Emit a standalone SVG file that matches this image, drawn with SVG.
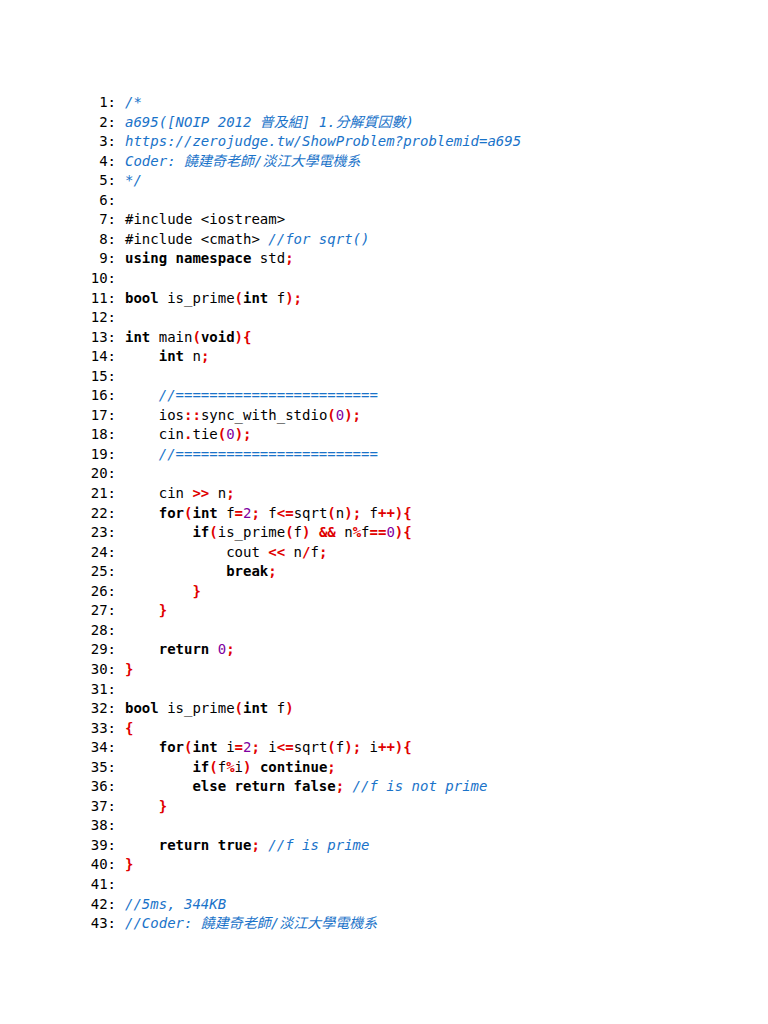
<svg xmlns="http://www.w3.org/2000/svg" width="768" height="1024" viewBox="0 0 768 1024">
<style>
text{font-family:"DejaVu Sans Mono","Liberation Mono","Noto Sans CJK TC",monospace;font-size:14px;fill:#000;white-space:pre}
.ln{text-anchor:end}
.k{font-weight:bold}
.o{fill:#e00000;font-weight:bold}
.n{fill:#8000a0}
.c{fill:#1a73c9;font-style:italic}
</style>
<rect width="768" height="1024" fill="#fff"/>
<g id="numbers">
<text class="ln" x="116" y="107">1:</text><text class="ln" x="116" y="126.5">2:</text><text class="ln" x="116" y="146.1">3:</text><text class="ln" x="116" y="165.6">4:</text><text class="ln" x="116" y="185.2">5:</text><text class="ln" x="116" y="204.7">6:</text><text class="ln" x="116" y="224.3">7:</text><text class="ln" x="116" y="243.8">8:</text><text class="ln" x="116" y="263.4">9:</text><text class="ln" x="116" y="283">10:</text><text class="ln" x="116" y="302.5">11:</text><text class="ln" x="116" y="322">12:</text><text class="ln" x="116" y="341.6">13:</text><text class="ln" x="116" y="361.2">14:</text><text class="ln" x="116" y="380.7">15:</text><text class="ln" x="116" y="400.2">16:</text><text class="ln" x="116" y="419.8">17:</text><text class="ln" x="116" y="439.4">18:</text><text class="ln" x="116" y="458.9">19:</text><text class="ln" x="116" y="478.4">20:</text><text class="ln" x="116" y="498">21:</text><text class="ln" x="116" y="517.6">22:</text><text class="ln" x="116" y="537.1">23:</text><text class="ln" x="116" y="556.6">24:</text><text class="ln" x="116" y="576.2">25:</text><text class="ln" x="116" y="595.8">26:</text><text class="ln" x="116" y="615.3">27:</text><text class="ln" x="116" y="634.8">28:</text><text class="ln" x="116" y="654.4">29:</text><text class="ln" x="116" y="674">30:</text><text class="ln" x="116" y="693.5">31:</text><text class="ln" x="116" y="713">32:</text><text class="ln" x="116" y="732.6">33:</text><text class="ln" x="116" y="752.2">34:</text><text class="ln" x="116" y="771.7">35:</text><text class="ln" x="116" y="791.2">36:</text><text class="ln" x="116" y="810.8">37:</text><text class="ln" x="116" y="830.4">38:</text><text class="ln" x="116" y="849.9">39:</text><text class="ln" x="116" y="869.4">40:</text><text class="ln" x="116" y="889">41:</text><text class="ln" x="116" y="908.6">42:</text><text class="ln" x="116" y="928.1">43:</text>
</g>
<g id="code">
<text x="125" y="107" class="c">/*</text>
<text x="125" y="126.5" class="c">a695([NOIP 2012 普及組] 1.分解質因數)</text>
<text x="125" y="146.1" class="c">https://zerojudge.tw/ShowProblem?problemid=a695</text>
<text x="125" y="165.6" class="c">Coder: 饒建奇老師/淡江大學電機系</text>
<text x="125" y="185.2" class="c">*/</text>
<text x="125" y="224.3">#include &lt;iostream&gt;</text>
<text x="125" y="243.8">#include &lt;cmath&gt; <tspan class="c">//for sqrt()</tspan></text>
<text x="125" y="263.4"><tspan class="k">using namespace</tspan> std<tspan class="o">;</tspan></text>
<text x="125" y="302.5"><tspan class="k">bool</tspan> is_prime<tspan class="o">(</tspan><tspan class="k">int</tspan> f<tspan class="o">);</tspan></text>
<text x="125" y="341.6"><tspan class="k">int</tspan> main<tspan class="o">(</tspan><tspan class="k">void</tspan><tspan class="o">){</tspan></text>
<text x="125" y="361.2">    <tspan class="k">int</tspan> n<tspan class="o">;</tspan></text>
<text x="125" y="400.2" class="c">    //========================</text>
<text x="125" y="419.8">    ios<tspan class="o">::</tspan>sync_with_stdio<tspan class="o">(</tspan><tspan class="n">0</tspan><tspan class="o">);</tspan></text>
<text x="125" y="439.4">    cin<tspan class="o">.</tspan>tie<tspan class="o">(</tspan><tspan class="n">0</tspan><tspan class="o">);</tspan></text>
<text x="125" y="458.9" class="c">    //========================</text>
<text x="125" y="498">    cin <tspan class="o">&gt;&gt;</tspan> n<tspan class="o">;</tspan></text>
<text x="125" y="517.6">    <tspan class="k">for</tspan><tspan class="o">(</tspan><tspan class="k">int</tspan> f<tspan class="o">=</tspan><tspan class="n">2</tspan><tspan class="o">;</tspan> f<tspan class="o">&lt;=</tspan>sqrt<tspan class="o">(</tspan>n<tspan class="o">);</tspan> f<tspan class="o">++){</tspan></text>
<text x="125" y="537.1">        <tspan class="k">if</tspan><tspan class="o">(</tspan>is_prime<tspan class="o">(</tspan>f<tspan class="o">)</tspan> <tspan class="o">&amp;&amp;</tspan> n<tspan class="o">%</tspan>f<tspan class="o">==</tspan><tspan class="n">0</tspan><tspan class="o">){</tspan></text>
<text x="125" y="556.6">            cout <tspan class="o">&lt;&lt;</tspan> n<tspan class="o">/</tspan>f<tspan class="o">;</tspan></text>
<text x="125" y="576.2">            <tspan class="k">break</tspan><tspan class="o">;</tspan></text>
<text x="125" y="595.8">        <tspan class="o">}</tspan></text>
<text x="125" y="615.3">    <tspan class="o">}</tspan></text>
<text x="125" y="654.4">    <tspan class="k">return</tspan> <tspan class="n">0</tspan><tspan class="o">;</tspan></text>
<text x="125" y="674" class="o">}</text>
<text x="125" y="713"><tspan class="k">bool</tspan> is_prime<tspan class="o">(</tspan><tspan class="k">int</tspan> f<tspan class="o">)</tspan></text>
<text x="125" y="732.6" class="o">{</text>
<text x="125" y="752.2">    <tspan class="k">for</tspan><tspan class="o">(</tspan><tspan class="k">int</tspan> i<tspan class="o">=</tspan><tspan class="n">2</tspan><tspan class="o">;</tspan> i<tspan class="o">&lt;=</tspan>sqrt<tspan class="o">(</tspan>f<tspan class="o">);</tspan> i<tspan class="o">++){</tspan></text>
<text x="125" y="771.7">        <tspan class="k">if</tspan><tspan class="o">(</tspan>f<tspan class="o">%</tspan>i<tspan class="o">)</tspan> <tspan class="k">continue</tspan><tspan class="o">;</tspan></text>
<text x="125" y="791.2">        <tspan class="k">else return false</tspan><tspan class="o">;</tspan> <tspan class="c">//f is not prime</tspan></text>
<text x="125" y="810.8">    <tspan class="o">}</tspan></text>
<text x="125" y="849.9">    <tspan class="k">return true</tspan><tspan class="o">;</tspan> <tspan class="c">//f is prime</tspan></text>
<text x="125" y="869.4" class="o">}</text>
<text x="125" y="908.6" class="c">//5ms, 344KB</text>
<text x="125" y="928.1" class="c">//Coder: 饒建奇老師/淡江大學電機系</text>
</g>
</svg>
